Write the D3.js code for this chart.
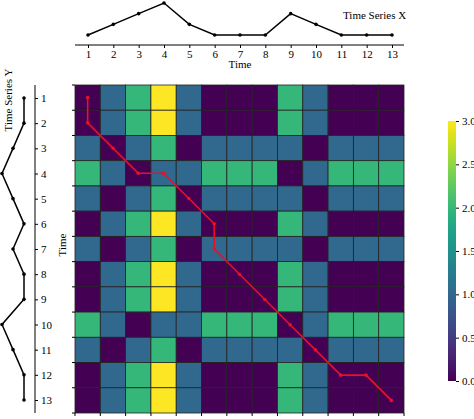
<!DOCTYPE html>
<html><head><meta charset="utf-8">
<script src="https://cdn.jsdelivr.net/npm/d3@7"></script>
<style>body{margin:0;background:#fff}text{font-family:"Liberation Serif","DejaVu Serif",serif;}</style>
</head><body><svg id="c" width="474" height="419"></svg>
<script>
const steps = [1,2,3,4,5,6,7,8,9,10,11,12,13];
const seriesX = [0,1,2,3,1,0,0,0,2,1,0,0,0];
const seriesY = [0,0,1,2,1,0,1,0,0,2,1,0,0];
const pathCols = [1,1,2,3,4,5,6,6,7,8,9,10,11,12,13];
const pathRows = [1,2,3,4,4,5,6,7,8,9,10,11,12,12,13];
const cbTicks = [0,0.5,1,1.5,2,2.5,3];

const svg = d3.select("#c");
const L=75,R=404,T=85,B=413;
const band = d3.scaleBand().domain(steps).range([L,R]);
const bandY = d3.scaleBand().domain(steps).range([T,B]);
const color = d3.scaleSequential(d3.interpolateViridis).domain([0,3]);

const cells=[];
seriesY.forEach((yv,j)=>seriesX.forEach((xv,i)=>cells.push({c:steps[i],r:steps[j],v:Math.abs(xv-yv)})));
svg.append("g").selectAll("rect").data(cells).join("rect")
 .attr("x",d=>band(d.c)).attr("y",d=>bandY(d.r)).attr("width",band.bandwidth()).attr("height",bandY.bandwidth())
 .attr("fill",d=>color(d.v)).attr("stroke","#222").attr("stroke-width",0.8);
const bnd=d3.range(14);
svg.append("g").selectAll("line").data(bnd).join("line")
 .attr("x1",L-3).attr("x2",L).attr("y1",i=>T+i*bandY.bandwidth()).attr("y2",i=>T+i*bandY.bandwidth()).attr("stroke","#000");
svg.append("g").selectAll("line").data(bnd).join("line")
 .attr("y1",B).attr("y2",B+3).attr("x1",i=>L+i*band.bandwidth()).attr("x2",i=>L+i*band.bandwidth()).attr("stroke","#000");
const pts=pathCols.map((c,i)=>[band(c)+band.bandwidth()/2,bandY(pathRows[i])+bandY.bandwidth()/2]);
svg.append("path").attr("d",d3.line()(pts)).attr("fill","none").attr("stroke","#e8102a").attr("stroke-width",1.6);
svg.append("g").selectAll("circle").data(pts).join("circle").attr("cx",d=>d[0]).attr("cy",d=>d[1]).attr("r",1.8).attr("fill","#e8102a");

const xs = d3.scalePoint().domain(steps).range([88,392]);
const yTop = d3.scaleLinear().domain([0,3]).range([35,3]);
svg.append("g").attr("transform","translate(0,45)")
 .call(d3.axisBottom(xs).tickSizeOuter(0).tickSize(3))
 .call(g=>{g.select(".domain").attr("d","M75,0H404");g.selectAll("text").attr("font-size",11).attr("font-family","Liberation Serif").attr("dy","0.6em");});
svg.append("path").attr("d",d3.line()(seriesX.map((v,i)=>[xs(steps[i]),yTop(v)]))).attr("fill","none").attr("stroke","#000").attr("stroke-width",1.5);
svg.append("g").selectAll("circle").data(seriesX).join("circle").attr("cx",(v,i)=>xs(steps[i])).attr("cy",v=>yTop(v)).attr("r",1.8);
svg.append("text").attr("x",240).attr("y",68).attr("text-anchor","middle").attr("font-size",11).text("Time");
svg.append("text").attr("x",343).attr("y",19).attr("text-anchor","start").attr("font-size",11).text("Time Series X");

const ys = d3.scalePoint().domain(steps).range([98,400]);
const xLeft = d3.scaleLinear().domain([0,2]).range([24,2]);
svg.append("g").attr("transform","translate(35,0)")
 .call(d3.axisRight(ys).tickSizeOuter(0).tickSize(3))
 .call(g=>{g.select(".domain").attr("d","M0,85V413");g.selectAll("text").attr("font-size",11).attr("font-family","Liberation Serif");});
svg.append("path").attr("d",d3.line()(seriesY.map((v,i)=>[xLeft(v),ys(steps[i])]))).attr("fill","none").attr("stroke","#000").attr("stroke-width",1.5);
svg.append("g").selectAll("circle").data(seriesY).join("circle").attr("cx",v=>xLeft(v)).attr("cy",(v,i)=>ys(steps[i])).attr("r",1.8);
svg.append("text").attr("transform","translate(66,245) rotate(-90)").attr("text-anchor","middle").attr("font-size",11).text("Time");
svg.append("text").attr("transform","translate(12,100) rotate(-90)").attr("text-anchor","middle").attr("font-size",11).text("Time Series Y");

const cbY=d3.scaleLinear().domain([0,3]).range([381,121]);
const defs=svg.append("defs");
const gr=defs.append("linearGradient").attr("id","vg").attr("x1",0).attr("x2",0).attr("y1",1).attr("y2",0);
d3.range(0,1.01,0.05).forEach(t=>gr.append("stop").attr("offset",t).attr("stop-color",d3.interpolateViridis(t)));
svg.append("rect").attr("x",448).attr("y",121).attr("width",8).attr("height",260).attr("fill","url(#vg)");
svg.append("g").attr("transform","translate(456,0)").call(d3.axisRight(cbY).tickValues(cbTicks).tickFormat(d3.format(".1f")).tickSize(3))
 .call(g=>{g.select(".domain").remove();g.selectAll("text").attr("font-size",11).attr("font-family","Liberation Serif");});
</script></body></html>
